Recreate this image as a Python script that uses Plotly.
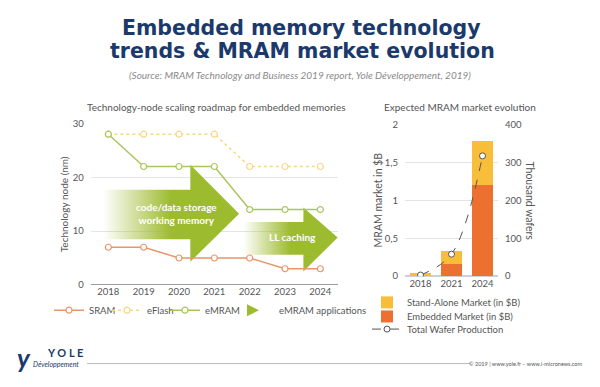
import plotly.graph_objects as go

# ---------------- data ----------------
years = ['2018', '2019', '2020', '2021', '2022', '2023', '2024']
sram = [7, 7, 5, 5, 5, 3, 3]
eflash = [28, 28, 28, 28, 22, 22, 22]
emram = [28, 22, 22, 22, 14, 14, 14]

market_years = ['2018', '2021', '2024']
standalone = [0.038, 0.17, 0.58]
embedded = [0.004, 0.16, 1.2]
wafers = [3, 58, 317]

left_yticks = [0, 10, 20, 30]
mk_ticks = [0, 0.5, 1, 1.5, 2]
mk_ticktext = ['0', '0,5', '1', '1,5', '2']
wf_ticks = [0, 100, 200, 300, 400]

# arrow outlines (decoration, in left-chart data units: x = year index, y = nm)
arrow1_x = [-0.14, 2.32, 2.32, 3.70, 2.32, 2.32, -0.14, -0.14]
arrow1_y = [17.7, 17.7, 22.3, 13.2, 4.3, 8.5, 8.5, 17.7]
arrow2_x = [3.82, 5.52, 5.52, 6.49, 5.52, 5.52, 3.82, 3.82]
arrow2_y = [11.7, 11.7, 14.4, 8.8, 2.5, 5.6, 5.6, 11.7]

# ---------------- style ----------------
OFF = 8  # page body margin
W, H = 600 - OFF, 387 - OFF
def px(x): return (x - OFF) / W
def py(y): return 1 - (y - OFF) / H

C_SRAM = '#e9956a'
C_EFLASH = '#f6d788'
C_EMRAM = '#a8c65c'
C_ARROW = 'rgb(157,187,47)'
C_SA = '#f8be3a'
C_EMB = '#ec7030'
C_TITLE = '#1b3a6b'
FONT = 'Lato, Open Sans, sans-serif'
TFONT = 'DejaVu Sans, sans-serif'
GRAY = '#555555'

idx = list(range(len(years)))
fig = go.Figure()

grad = dict(type='horizontal',
            colorscale=[[0, 'rgba(157,187,47,0)'], [0.5, 'rgba(157,187,47,1)'], [1, 'rgba(157,187,47,1)']])
for ax_, ay_ in [(arrow1_x, arrow1_y), (arrow2_x, arrow2_y)]:
    fig.add_trace(go.Scatter(x=ax_, y=ay_, fill='toself', mode='none', fillgradient=grad,
                             hoverinfo='skip', showlegend=False, xaxis='x', yaxis='y'))

def line_trace(y, name, color, legend, dash='solid'):
    return go.Scatter(x=idx, y=y, name=name, mode='lines+markers',
                      line=dict(color=color, width=1.5, dash=dash),
                      marker=dict(color='white', symbol='circle', size=6,
                                  line=dict(color=color, width=1.2)),
                      legend=legend, xaxis='x', yaxis='y')

fig.add_trace(line_trace(sram, 'SRAM', C_SRAM, 'legend'))
fig.add_trace(line_trace(eflash, 'eFlash', C_EFLASH, 'legend2', 'dot'))
fig.add_trace(line_trace(emram, 'eMRAM', C_EMRAM, 'legend3'))
fig.add_trace(go.Scatter(x=[None], y=[None], name='eMRAM applications', mode='markers',
                         marker=dict(symbol='arrow-right', size=12, color=C_ARROW),
                         legend='legend4', xaxis='x', yaxis='y'))

# right chart
fig.add_trace(go.Bar(x=market_years, y=embedded, name='Embedded Market (in $B)',
                     marker=dict(color=C_EMB, line=dict(width=0)),
                     legend='legend6', xaxis='x2', yaxis='y2'))
fig.add_trace(go.Bar(x=market_years, y=standalone, name='Stand-Alone Market (in $B)',
                     marker=dict(color=C_SA, line=dict(width=0)),
                     legend='legend5', xaxis='x2', yaxis='y2'))
fig.add_trace(go.Scatter(x=market_years, y=wafers, name='Total Wafer Production',
                         mode='lines+markers',
                         line=dict(color='#555555', width=1, dash='dash', shape='spline'),
                         marker=dict(color='white', size=6, line=dict(color='#555555', width=1)),
                         legend='legend7', xaxis='x2', yaxis='y3'))

tickfont = dict(family=FONT, size=9.5, color=GRAY)
legfont = dict(family=FONT, size=9.5, color=GRAY)

def leg(x, y):
    return dict(x=px(x), y=py(y), xanchor='left', yanchor='middle', font=legfont,
                bgcolor='rgba(0,0,0,0)', borderwidth=0, orientation='h')

fig.update_layout(
    width=W, height=H, margin=dict(l=0, r=0, t=0, b=0),
    paper_bgcolor='white', plot_bgcolor='white',
    font=dict(family=FONT, color=GRAY),
    barmode='stack', bargap=0.32,
    xaxis=dict(domain=[px(90.7), px(338)], range=[-0.5, 6.5], tickvals=idx, ticktext=years,
               showgrid=False, zeroline=False, showline=False, tickfont=tickfont,
               anchor='y', fixedrange=True),
    yaxis=dict(domain=[py(287), py(120.7)], range=[0, 30], tickvals=left_yticks,
               gridcolor='#e4e4e4', gridwidth=1, zeroline=True, zerolinecolor='#9a9a9a',
               zerolinewidth=1, showline=False, tickfont=tickfont, ticklabelstandoff=6,
               anchor='x'),
    xaxis2=dict(domain=[px(405), px(498)], range=[-0.5, 2.5], showgrid=False, zeroline=False,
                showline=False, tickfont=tickfont, anchor='y2', type='category'),
    yaxis2=dict(domain=[py(278), py(121.7)], range=[0, 2], tickvals=mk_ticks, ticktext=mk_ticktext,
                gridcolor='#e4e4e4', zeroline=True, zerolinecolor='#d0d0d0', showline=False,
                tickfont=tickfont, ticklabelstandoff=6, anchor='x2'),
    yaxis3=dict(domain=[py(278), py(121.7)], range=[0, 400], tickvals=wf_ticks,
                overlaying='y2', side='right', showgrid=False, zeroline=False, showline=False,
                tickfont=tickfont, ticklabelstandoff=6, anchor='x2'),
    legend=leg(49, 313),
    legend2=leg(107, 313),
    legend3=leg(165, 313),
    legend4=leg(239, 313),
    legend5=leg(367, 305),
    legend6=leg(367, 319.5),
    legend7=leg(367, 332.5),
)

ann = [
    dict(x=px(301), y=py(22.5), text='<b>Embedded memory technology</b>',
         font=dict(family=TFONT, size=20.5, color=C_TITLE)),
    dict(x=px(302), y=py(46.5), text='<b>trends &amp; MRAM market evolution</b>',
         font=dict(family=TFONT, size=20.5, color=C_TITLE)),
    dict(x=px(300), y=py(70.5), text='<i>(Source: MRAM Technology and Business 2019 report, Yole Développement, 2019)</i>',
         font=dict(family=FONT, size=10, color='#8a8a8a')),
    dict(x=px(216), y=py(104), text='Technology-node scaling roadmap for embedded memories',
         font=dict(family=FONT, size=10, color=GRAY)),
    dict(x=px(460), y=py(104), text='Expected MRAM market evolution',
         font=dict(family=FONT, size=10, color=GRAY)),
    dict(x=px(64), y=py(204), text='Technology node (nm)', textangle=-90,
         font=dict(family=FONT, size=10, color=GRAY)),
    dict(x=px(378), y=py(200), text='MRAM market in $B', textangle=-90,
         font=dict(family=FONT, size=10.5, color=GRAY)),
    dict(x=px(530), y=py(200), text='Thousand wafers', textangle=90,
         font=dict(family=FONT, size=10.5, color=GRAY)),
    dict(x=px(176), y=py(213), text='<b>code/data storage<br>working memory</b>',
         font=dict(family=FONT, size=10, color='white')),
    dict(x=px(292), y=py(238), text='<b>LL caching</b>',
         font=dict(family=FONT, size=10, color='white')),
    dict(x=px(65), y=py(357), text='<b>Y O L E</b>',
         font=dict(family=FONT, size=11, color=C_TITLE)),
    dict(x=px(24), y=py(362), text='<b><i>y</i></b>',
         font=dict(family=FONT, size=26, color=C_TITLE)),
    dict(x=px(56), y=py(368), text='<i>Développement</i>',
         font=dict(family=FONT, size=7, color=C_TITLE)),
    dict(x=px(584), y=py(368), text='© 2019 | www.yole.fr – www.i-micronews.com', xanchor='right',
         font=dict(family=FONT, size=5.5, color='#555555')),
]
for a in ann:
    a.setdefault('xanchor', 'center')
    a.update(xref='paper', yref='paper', showarrow=False, yanchor='middle')
    fig.add_annotation(**a)

fig.add_shape(type='line', xref='paper', yref='paper', x0=px(87), x1=px(470), y0=py(368), y1=py(368),
              line=dict(color='#aaaaaa', width=0.8))

fig.write_html('out.html')
